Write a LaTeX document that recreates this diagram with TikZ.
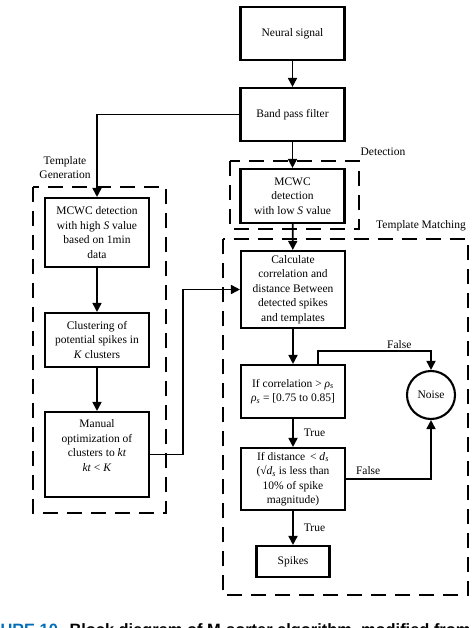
\documentclass[tikz,border=0pt]{standalone}
\usepackage{fontspec}
\setmainfont{Liberation Serif}
\newfontfamily\legendafonte{Liberation Sans}
\usetikzlibrary{arrows.meta}

\begin{document}
\begin{tikzpicture}[x=1pt, y=-1pt, %Unidades em pixels, y para baixo
		bloco/.style={draw, line width=2.1pt, minimum width=104pt, align=center, inner sep=2pt, font=\fontsize{11.5}{14.5}\selectfont},
		grupo/.style={line width=2pt, dash pattern=on 15pt off 9pt},
		seta/.style={line width=1.7pt, -{Triangle[length=9pt,width=9pt]}},
		rotulo/.style={align=center, inner sep=1pt, font=\fontsize{11.5}{14}\selectfont}]
	\useasboundingbox (0,0) rectangle (474,628); %Margens da figura
		%Blocos principais
	\node[bloco, minimum height=53pt] (neural) at (292.5,33.5) {Neural signal};
	\node[bloco, minimum height=53pt] (band) at (292.5,114.5) {Band pass filter};
	\node[bloco, minimum height=54pt] (mcwcLow) at (292.5,196) {MCWC\\detection\\with low \textit{S} value};
		%Geracao de templates
	\node[bloco, minimum height=69pt] (mcwcHigh) at (97,232.5) {MCWC detection\\with high \textit{S} value\\based on 1min\\data};
	\node[bloco, minimum height=54pt] (cluster) at (97,340) {Clustering of\\potential spikes in\\\textit{K} clusters};
	\node[bloco, minimum height=85pt] (manual) at (97,454.5) {Manual\\optimization of\\clusters to \textit{kt}\\\textit{kt} < \textit{K}\\[3pt]};
		%Comparacao com templates
	\node[bloco, minimum height=77pt] (calc) at (293,289.5) {Calculate\\correlation and\\distance Between\\detected spikes\\and templates};
	\node[bloco, minimum height=53pt] (corr) at (293,391.5) {If correlation > \textit{ρ}\textsubscript{\textit{s}}\\\textit{ρ}\textsubscript{\textit{s}} = [0.75 to 0.85]};
	\node[bloco, minimum height=62pt] (dist) at (293,479) {If distance\, < \textit{d}\textsubscript{\textit{s}}\\(√\textit{d}\textsubscript{\textit{s}} is less than\\10\% of spike\\magnitude)};
	\node[bloco, minimum width=73pt, minimum height=31pt] (spikes) at (293,561.5) {Spikes};
	\node[draw, circle, line width=2.1pt, minimum size=48pt, inner sep=0pt, font=\fontsize{11.5}{14}\selectfont] (noise) at (431,395) {Noise};
		%Caixas tracejadas
	\draw[grupo] (33,187) rectangle (166,513); %Template Generation
	\draw[grupo] (230,161) rectangle (359,229); %Detection
	\draw[grupo] (223,239) rectangle (468,595); %Template Matching
	\node[rotulo] (lblGen) at (65,168) {Template\\Generation};
	\node[rotulo] (lblDet) at (383,152) {Detection};
	\node[rotulo] (lblMatch) at (421,226) {Template Matching};
		%Conexoes
	\draw[seta] (neural) -- (band);
	\draw[seta] (band) -- (mcwcLow);
	\draw[seta] (band.west) -| (mcwcHigh.north);
	\draw[seta] (mcwcHigh) -- (cluster);
	\draw[seta] (cluster) -- (manual);
	\draw[seta] (manual.east) -- ++(33,0) |- (calc.west);
	\draw[seta] (mcwcLow) -- (calc);
	\draw[seta] (calc) -- (corr);
	\draw[seta] ([xshift=25pt]corr.north) -- ++(0,-13) -| (noise.north) node[pos=0.36, above, rotulo] {False};
	\draw[seta] (corr) -- (dist) node[midway, right=9pt, rotulo] {True};
	\draw[seta] (dist.east) -| (noise.south) node[pos=0.13, above=3pt, rotulo] {False};
	\draw[seta] (dist.south) -- (spikes.north) node[midway, right=9pt, rotulo] {True};
		%Legenda cortada na borda
	\node[anchor=north west, inner sep=0pt, font=\legendafonte\bfseries\fontsize{16.4}{18}\selectfont] (legenda) at (-27,623) {\textcolor[RGB]{0,110,185}{FIGURE 10.}\hspace{7pt}Block diagram of M-sorter algorithm, modified from};
\end{tikzpicture}
\end{document}
